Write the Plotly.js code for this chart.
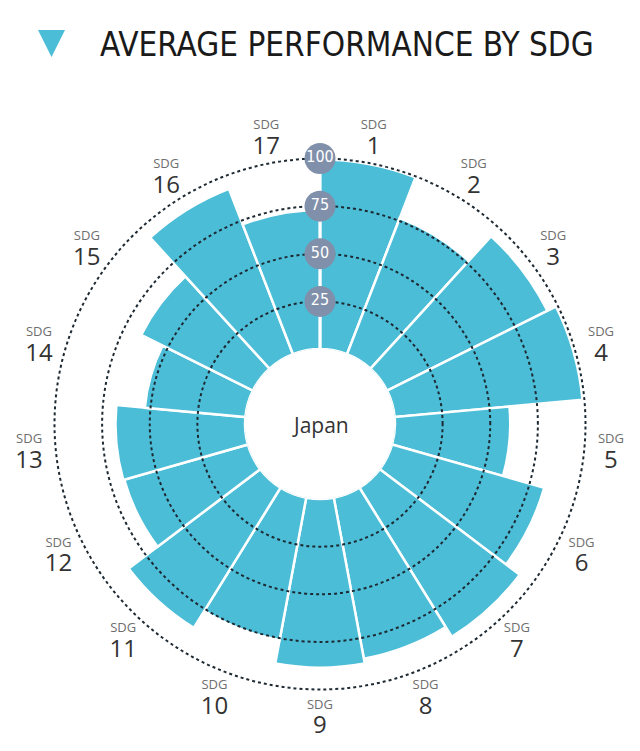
<!DOCTYPE html>
<html>
<head>
<meta charset="utf-8">
<script src="https://cdn.plot.ly/plotly-3.0.1.min.js"></script>
<style>
  html, body { margin: 0; padding: 0; background: #fff; }
  #chart { width: 640px; height: 751px; }
</style>
</head>
<body>
<div id="chart"></div>
<script>
// values (0-100 scale)
const goals = [1, 2, 3, 4, 5, 6, 7, 8, 9, 10, 11, 12, 13, 14, 15, 16, 17];
const scores = [99.5, 76.5, 94, 99, 60.5, 83, 92, 86, 88.5, 76, 86.5, 67.5, 68, 53, 65.5, 93, 73];
const ringValues = [25, 50, 75, 100];
const countryName = "Japan";
const chartTitle = "AVERAGE PERFORMANCE BY SDG";

const barColor = "#4bbdd7";
const narrowFont = "DejaVu Sans Condensed, Liberation Sans Narrow, sans-serif";
const labelRadius = 114;
const rMax = 120;
const hole = 0.247;

const categories = goals.map((g) => `SDG ${g}`);
const goalText = goals.map(
  (g) =>
    `<span style="font-size:13px;color:#6e6e6e">SDG</span><br><span style="font-size:24px">${g}</span>`
);

const bars = {
  type: "barpolar",
  subplot: "polar",
  theta: categories,
  r: scores,
  marker: { color: barColor, line: { color: "white", width: 2.5 } },
  hoverinfo: "theta+r",
};

const goalLabels = {
  type: "scatterpolar",
  subplot: "polar",
  mode: "text",
  theta: categories,
  r: Array(goals.length).fill(labelRadius),
  text: goalText,
  textposition: "middle center",
  textfont: { family: "Open Sans, Noto Sans, sans-serif", size: 19, color: "#333" },
  cliponaxis: false,
  hoverinfo: "skip",
};

const badges = {
  type: "scatterpolar",
  subplot: "polar2",
  mode: "markers+text",
  theta: Array(ringValues.length).fill(0),
  r: ringValues,
  text: ringValues.map(String),
  textposition: "middle center",
  textfont: { family: narrowFont, size: 16, color: "white" },
  marker: { size: 31, color: "#8190aa" },
  cliponaxis: false,
  hoverinfo: "skip",
};

const domain = {
  x: [(320 - 303.6) / 640, (320 + 303.6) / 640],
  y: [(327 - 303.6) / 751, (327 + 303.6) / 751],
};

const layout = {
  width: 640,
  height: 751,
  margin: { l: 0, r: 0, t: 0, b: 0 },
  paper_bgcolor: "white",
  showlegend: false,
  title: {
    text: chartTitle,
    x: 100 / 640,
    xanchor: "left",
    xref: "container",
    y: 1 - 44 / 751,
    yanchor: "middle",
    yref: "container",
    font: { family: narrowFont, size: 33, color: "#1a1a1a" },
  },
  polar: {
    domain: domain,
    hole: hole,
    bargap: 0,
    bgcolor: "rgba(0,0,0,0)",
    radialaxis: {
      range: [0, rMax],
      angle: 90,
      showline: true,
      linecolor: "white",
      linewidth: 3,
      showgrid: false,
      showticklabels: false,
      ticks: "",
      layer: "above traces",
    },
    angularaxis: {
      type: "category",
      direction: "clockwise",
      rotation: 90 - 360 / (2 * goals.length),
      showgrid: false,
      showline: false,
      showticklabels: false,
      ticks: "",
    },
  },
  polar2: {
    domain: domain,
    hole: hole,
    bgcolor: "rgba(0,0,0,0)",
    radialaxis: {
      range: [0, rMax],
      tickvals: ringValues,
      showgrid: true,
      gridcolor: "#1e2a33",
      gridwidth: 2,
      griddash: "dot",
      showline: false,
      showticklabels: false,
      ticks: "",
    },
    angularaxis: {
      direction: "clockwise",
      rotation: 90,
      showgrid: false,
      showline: false,
      showticklabels: false,
      ticks: "",
    },
  },
  // title marker: downward triangle left of the heading
  shapes: [
    {
      type: "path",
      xref: "paper",
      yref: "paper",
      path: `M ${38 / 640},${1 - 30 / 751} L ${65 / 640},${1 - 30 / 751} L ${51.5 / 640},${1 - 57 / 751} Z`,
      fillcolor: barColor,
      line: { width: 0 },
    },
  ],
  annotations: [
    {
      text: countryName,
      x: 0.5,
      y: 1 - 425 / 751,
      xref: "paper",
      yref: "paper",
      showarrow: false,
      font: { family: "Open Sans, Noto Sans, sans-serif", size: 21, color: "#333" },
    },
  ],
};

Plotly.newPlot("chart", [bars, goalLabels, badges], layout, { staticPlot: true });
</script>
</body>
</html>
